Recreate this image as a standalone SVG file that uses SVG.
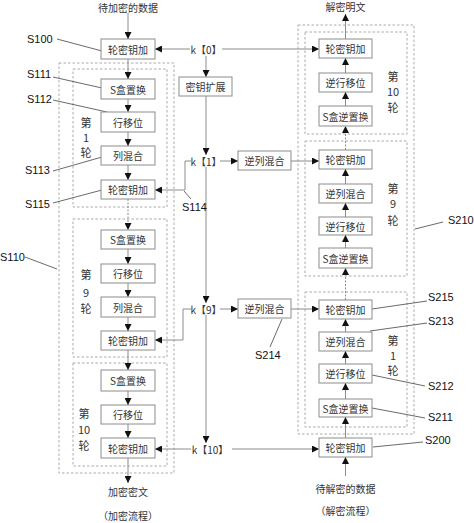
<svg xmlns="http://www.w3.org/2000/svg" width="474" height="523" viewBox="0 0 474 523">
<defs>
<style>
.box{fill:#fff;stroke:#8c8c8c;stroke-width:1}
.dash{fill:none;stroke:#aaaaaa;stroke-width:1;stroke-dasharray:2.5,2}
.t{font-family:"Noto Sans CJK SC","Noto Sans",sans-serif;font-size:10px;fill:#333;text-anchor:middle;dominant-baseline:central}
.v{font-family:"Noto Sans CJK SC","Liberation Sans",sans-serif;font-size:11px;fill:#333;text-anchor:middle;dominant-baseline:central}
.lab{font-family:"Liberation Sans","Noto Sans",sans-serif;font-size:11px;fill:#111;dominant-baseline:central}
.ln{fill:none;stroke:#8c8c8c;stroke-width:1}
.dl{fill:none;stroke:#8c8c8c;stroke-width:1;stroke-dasharray:2,1.5}
.ld{fill:none;stroke:#444;stroke-width:0.8}
</style>
<marker id="a" viewBox="0 0 8 8" refX="8" refY="4" markerWidth="7" markerHeight="7" markerUnits="userSpaceOnUse" orient="auto">
<path d="M0,0 L8,4 L0,8 Z" fill="#111"/>
</marker>
</defs>

<g id="frames">
<rect class="dash" x="59" y="63" width="115" height="410"/>
<rect class="dash" x="73" y="69" width="94" height="138"/>
<rect class="dash" x="73" y="219" width="94" height="138"/>
<rect class="dash" x="73" y="363" width="94" height="103"/>
<rect class="dash" x="298" y="25" width="116" height="409"/>
<rect class="dash" x="305" y="32" width="102" height="102"/>
<rect class="dash" x="305" y="141" width="102" height="135"/>
<rect class="dash" x="305" y="292" width="102" height="135"/>
</g>

<g id="connectors">
<line class="ln" x1="128" y1="13" x2="128" y2="39" marker-end="url(#a)"/>
<line class="ln" x1="128" y1="59" x2="128" y2="79" marker-end="url(#a)"/>
<line class="ln" x1="128" y1="99" x2="128" y2="112" marker-end="url(#a)"/>
<line class="ln" x1="128" y1="132" x2="128" y2="146" marker-end="url(#a)"/>
<line class="ln" x1="128" y1="165" x2="128" y2="180" marker-end="url(#a)"/>
<line class="dl" x1="128" y1="199" x2="128" y2="230" marker-end="url(#a)"/>
<line class="ln" x1="128" y1="249" x2="128" y2="264" marker-end="url(#a)"/>
<line class="ln" x1="128" y1="283" x2="128" y2="297" marker-end="url(#a)"/>
<line class="ln" x1="128" y1="317" x2="128" y2="331" marker-end="url(#a)"/>
<line class="ln" x1="128" y1="350" x2="128" y2="370" marker-end="url(#a)"/>
<line class="ln" x1="128" y1="391" x2="128" y2="405" marker-end="url(#a)"/>
<line class="ln" x1="128" y1="424" x2="128" y2="438" marker-end="url(#a)"/>
<line class="ln" x1="128" y1="458" x2="128" y2="483" marker-end="url(#a)"/>
<line class="ln" x1="190" y1="49" x2="155" y2="49" marker-end="url(#a)"/>
<line class="ln" x1="206" y1="56" x2="206" y2="77" marker-end="url(#a)"/>
<line class="ln" x1="206" y1="96" x2="206" y2="155" marker-end="url(#a)"/>
<polyline class="ln" points="191,161 185,161 185,190 155,190" marker-end="url(#a)"/>
<line class="ln" x1="206" y1="167" x2="206" y2="303" marker-end="url(#a)"/>
<polyline class="ln" points="191,309 183,309 183,340 155,340" marker-end="url(#a)"/>
<line class="ln" x1="206" y1="315" x2="206" y2="443" marker-end="url(#a)"/>
<line class="ln" x1="191" y1="449" x2="155" y2="449" marker-end="url(#a)"/>
<line class="ln" x1="222" y1="49" x2="319" y2="49" marker-end="url(#a)"/>
<line class="ln" x1="220" y1="161" x2="238" y2="161" marker-end="url(#a)"/>
<line class="ln" x1="291" y1="161" x2="319" y2="161" marker-end="url(#a)"/>
<line class="ln" x1="220" y1="309" x2="238" y2="309" marker-end="url(#a)"/>
<line class="ln" x1="291" y1="309" x2="319" y2="309" marker-end="url(#a)"/>
<line class="ln" x1="232" y1="449" x2="319" y2="449" marker-end="url(#a)"/>
<line class="ln" x1="345.5" y1="476" x2="345.5" y2="457" marker-end="url(#a)"/>
<line class="ln" x1="345.5" y1="438" x2="345.5" y2="417" marker-end="url(#a)"/>
<line class="ln" x1="345.5" y1="399" x2="345.5" y2="383" marker-end="url(#a)"/>
<line class="ln" x1="345.5" y1="364" x2="345.5" y2="351" marker-end="url(#a)"/>
<line class="ln" x1="345.5" y1="332" x2="345.5" y2="319" marker-end="url(#a)"/>
<line class="dl" x1="345.5" y1="300" x2="345.5" y2="268" marker-end="url(#a)"/>
<line class="ln" x1="345.5" y1="248" x2="345.5" y2="235" marker-end="url(#a)"/>
<line class="ln" x1="345.5" y1="217" x2="345.5" y2="203" marker-end="url(#a)"/>
<line class="ln" x1="345.5" y1="184" x2="345.5" y2="169" marker-end="url(#a)"/>
<line class="dl" x1="345.5" y1="150" x2="345.5" y2="126" marker-end="url(#a)"/>
<line class="ln" x1="345.5" y1="106" x2="345.5" y2="92" marker-end="url(#a)"/>
<line class="ln" x1="345.5" y1="73" x2="345.5" y2="58" marker-end="url(#a)"/>
<line class="ln" x1="345.5" y1="39" x2="345.5" y2="14" marker-end="url(#a)"/>
</g>

<g id="leaders">
<line class="ld" x1="57" y1="39" x2="102" y2="51"/>
<line class="ld" x1="53" y1="77" x2="102" y2="88"/>
<line class="ld" x1="53" y1="100" x2="107" y2="112"/>
<line class="ld" x1="53" y1="171" x2="102" y2="157"/>
<line class="ld" x1="53" y1="203" x2="102" y2="190"/>
<line class="ld" x1="184" y1="191" x2="191" y2="199"/>
<line class="ld" x1="25" y1="257" x2="57" y2="269"/>
<line class="ld" x1="443" y1="222" x2="415" y2="229"/>
<line class="ld" x1="427" y1="301" x2="372" y2="309"/>
<line class="ld" x1="427" y1="323" x2="370" y2="331"/>
<line class="ld" x1="372" y1="375" x2="425" y2="386"/>
<line class="ld" x1="372" y1="408" x2="425" y2="418"/>
<line class="ld" x1="373" y1="447" x2="423" y2="442"/>
<line class="ld" x1="282" y1="319" x2="270" y2="347"/>
</g>

<g id="texts">
<text class="t" x="128" y="7">待加密的数据</text>
<text class="t" x="128" y="491">加密密文</text>
<text class="t" x="128" y="515">（加密流程）</text>
<text class="t" x="345.5" y="6">解密明文</text>
<text class="t" x="345.5" y="488">待解密的数据</text>
<text class="t" x="345.5" y="510">（解密流程）</text>
<text class="t" x="206" y="49">k【0】</text>
<text class="t" x="206" y="161">k【1】</text>
<text class="t" x="206" y="309">k【9】</text>
<text class="t" x="210" y="449">k【10】</text>
<text class="lab" x="27" y="39">S100</text>
<text class="lab" x="27" y="74">S111</text>
<text class="lab" x="27" y="99">S112</text>
<text class="lab" x="25" y="170">S113</text>
<text class="lab" x="25" y="204">S115</text>
<text class="lab" x="182" y="207">S114</text>
<text class="lab" x="0" y="257">S110</text>
<text class="lab" x="448" y="220">S210</text>
<text class="lab" x="428" y="297">S215</text>
<text class="lab" x="428" y="321">S213</text>
<text class="lab" x="428" y="386">S212</text>
<text class="lab" x="428" y="417">S211</text>
<text class="lab" x="425" y="440">S200</text>
<text class="lab" x="255" y="355">S214</text>
<text class="v" x="86" y="122">第</text><text class="v" x="86" y="137">1</text><text class="v" x="86" y="152">轮</text>
<text class="v" x="86" y="274">第</text><text class="v" x="86" y="292">9</text><text class="v" x="86" y="308">轮</text>
<text class="v" x="84" y="413">第</text><text class="v" x="84" y="429">10</text><text class="v" x="84" y="445">轮</text>
<text class="v" x="393" y="76">第</text><text class="v" x="393" y="91">10</text><text class="v" x="393" y="107">轮</text>
<text class="v" x="393" y="188">第</text><text class="v" x="393" y="203">9</text><text class="v" x="393" y="220">轮</text>
<text class="v" x="393" y="340">第</text><text class="v" x="393" y="355">1</text><text class="v" x="393" y="370">轮</text>
</g>

<g id="n-enc-add0"><rect class="box" x="101" y="39" width="54" height="20"/><text class="t" x="128" y="49">轮密钥加</text></g>
<g id="n-keyexp"><rect class="box" x="179" y="77" width="53" height="19"/><text class="t" x="205.5" y="86.5">密钥扩展</text></g>
<g id="n-e1-sub"><rect class="box" x="101" y="79" width="54" height="20"/><text class="t" x="128" y="89">S盒置换</text></g>
<g id="n-e1-shift"><rect class="box" x="101" y="112" width="54" height="20"/><text class="t" x="128" y="122">行移位</text></g>
<g id="n-e1-mix"><rect class="box" x="101" y="146" width="54" height="19"/><text class="t" x="128" y="155.5">列混合</text></g>
<g id="n-e1-add"><rect class="box" x="101" y="180" width="54" height="19"/><text class="t" x="128" y="189.5">轮密钥加</text></g>
<g id="n-e9-sub"><rect class="box" x="101" y="230" width="54" height="19"/><text class="t" x="128" y="239.5">S盒置换</text></g>
<g id="n-e9-shift"><rect class="box" x="101" y="264" width="54" height="19"/><text class="t" x="128" y="273.5">行移位</text></g>
<g id="n-e9-mix"><rect class="box" x="101" y="297" width="54" height="20"/><text class="t" x="128" y="307">列混合</text></g>
<g id="n-e9-add"><rect class="box" x="101" y="331" width="54" height="19"/><text class="t" x="128" y="340.5">轮密钥加</text></g>
<g id="n-e10-sub"><rect class="box" x="101" y="370" width="54" height="21"/><text class="t" x="128" y="380.5">S盒置换</text></g>
<g id="n-e10-shift"><rect class="box" x="101" y="405" width="54" height="19"/><text class="t" x="128" y="414.5">行移位</text></g>
<g id="n-e10-add"><rect class="box" x="101" y="438" width="54" height="20"/><text class="t" x="128" y="448">轮密钥加</text></g>
<g id="n-invmix-k1"><rect class="box" x="238" y="151" width="53" height="19"/><text class="t" x="264.5" y="160.5">逆列混合</text></g>
<g id="n-invmix-k9"><rect class="box" x="238" y="299" width="53" height="19"/><text class="t" x="264.5" y="308.5">逆列混合</text></g>
<g id="n-d10-add"><rect class="box" x="319" y="39" width="53" height="19"/><text class="t" x="345.5" y="48.5">轮密钥加</text></g>
<g id="n-d10-shift"><rect class="box" x="319" y="73" width="53" height="19"/><text class="t" x="345.5" y="82.5">逆行移位</text></g>
<g id="n-d10-sub"><rect class="box" x="319" y="106" width="53" height="20"/><text class="t" x="345.5" y="116">S盒逆置换</text></g>
<g id="n-d9-add"><rect class="box" x="319" y="150" width="53" height="19"/><text class="t" x="345.5" y="159.5">轮密钥加</text></g>
<g id="n-d9-mix"><rect class="box" x="319" y="184" width="53" height="19"/><text class="t" x="345.5" y="193.5">逆列混合</text></g>
<g id="n-d9-shift"><rect class="box" x="319" y="217" width="53" height="18"/><text class="t" x="345.5" y="226">逆行移位</text></g>
<g id="n-d9-sub"><rect class="box" x="319" y="248" width="53" height="20"/><text class="t" x="345.5" y="258">S盒逆置换</text></g>
<g id="n-d1-add"><rect class="box" x="319" y="300" width="53" height="19"/><text class="t" x="345.5" y="309.5">轮密钥加</text></g>
<g id="n-d1-mix"><rect class="box" x="319" y="332" width="53" height="19"/><text class="t" x="345.5" y="341.5">逆列混合</text></g>
<g id="n-d1-shift"><rect class="box" x="319" y="364" width="53" height="19"/><text class="t" x="345.5" y="373.5">逆行移位</text></g>
<g id="n-d1-sub"><rect class="box" x="319" y="399" width="53" height="18"/><text class="t" x="345.5" y="408">S盒逆置换</text></g>
<g id="n-dec-add0"><rect class="box" x="319" y="438" width="53" height="19"/><text class="t" x="345.5" y="447.5">轮密钥加</text></g>
</svg>
